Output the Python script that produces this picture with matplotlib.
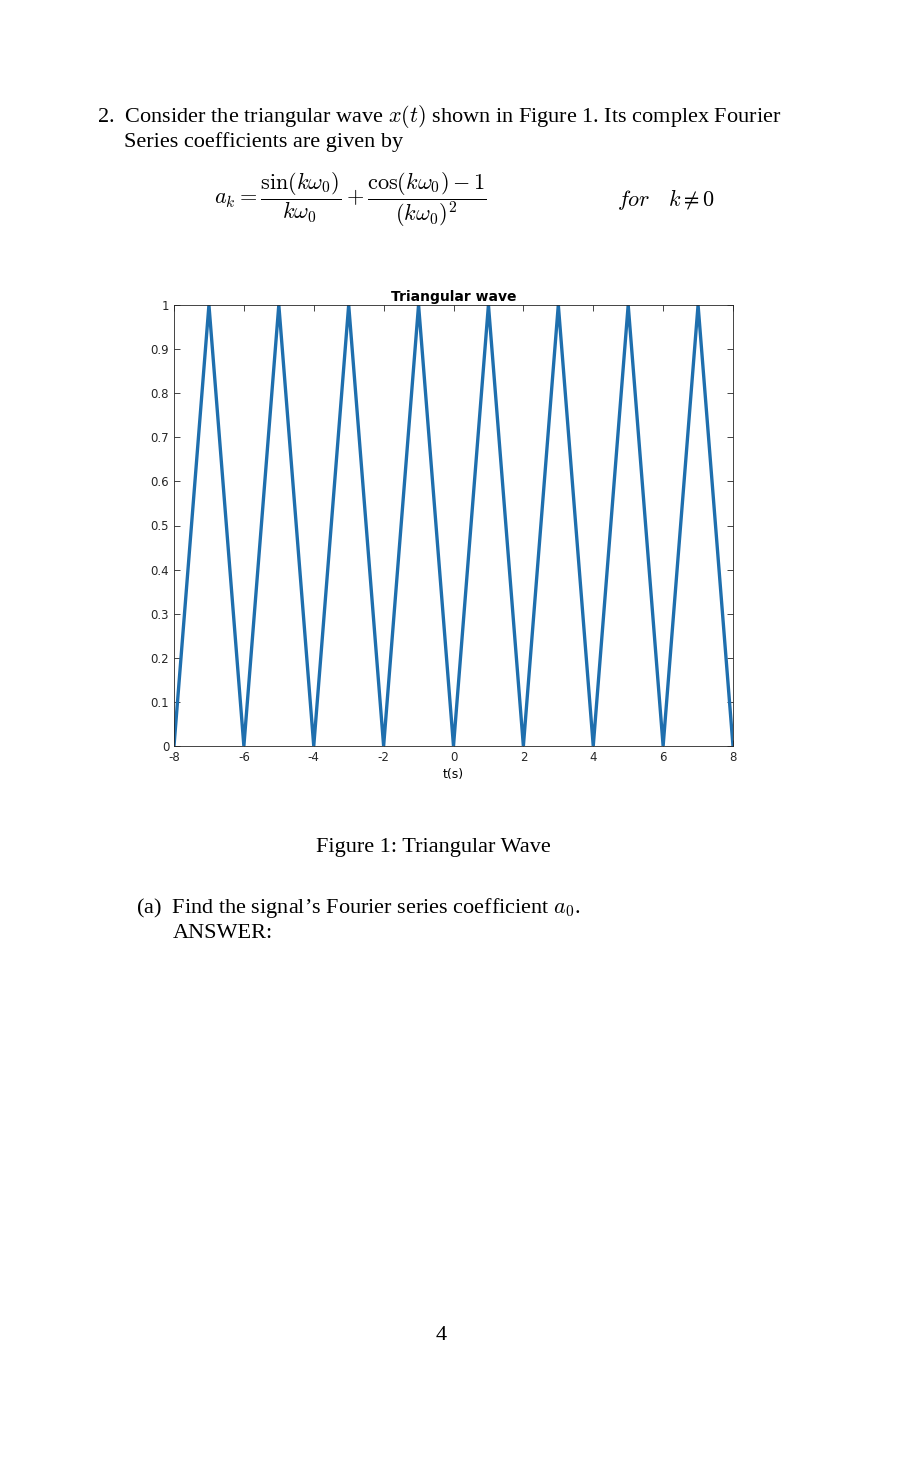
import matplotlib
matplotlib.use("Agg")
import matplotlib.pyplot as plt
import numpy as np

plt.rcParams['mathtext.fontset'] = 'cm'

t_vals = [-8, -7, -6, -5, -4, -3, -2, -1, 0, 1, 2, 3, 4, 5, 6, 7, 8]
x_vals = [0, 1, 0, 1, 0, 1, 0, 1, 0, 1, 0, 1, 0, 1, 0, 1, 0]
xticks = [-8, -6, -4, -2, 0, 2, 4, 6, 8]
yticks = [0, 0.1, 0.2, 0.3, 0.4, 0.5, 0.6, 0.7, 0.8, 0.9, 1]

W, H = 913, 1481
fig = plt.figure(figsize=(W/100, H/100), dpi=100)

def T(x, y, s, **kw):
    kw.setdefault('fontsize', 16)
    kw.setdefault('family', 'Liberation Serif')
    fig.text(x/W, 1-y/H, s, va='center', **kw)

T(97, 116, "2.  Consider the triangular wave $x(t)$ shown in Figure 1. Its complex Fourier")
T(124, 142, "Series coefficients are given by")
T(214, 200, r"$a_k = \dfrac{\sin(k\omega_0)}{k\omega_0} + \dfrac{\cos(k\omega_0)-1}{(k\omega_0)^2}$", fontsize=16)
T(617, 199, r"$for\quad k \neq 0$", fontsize=16)
T(316, 847, "Figure 1: Triangular Wave")
T(136, 908, "(a)  Find the signal\u2019s Fourier series coefficient $a_0$.")
T(173, 934, "ANSWER:")
T(441, 1336, "4", ha='center')

ax = fig.add_axes([174/W, 1-746/H, 559/W, 441/H])
ax.plot(t_vals, x_vals, color='#1f6fae', lw=2.4)
ax.set_xlim(-8, 8)
ax.set_ylim(0, 1)
ax.set_xticks(xticks)
ax.set_xticklabels([str(v) for v in xticks])
ax.set_yticks(yticks)
ax.set_yticklabels(['0', '0.1', '0.2', '0.3', '0.4', '0.5', '0.6', '0.7', '0.8', '0.9', '1'])
ax.tick_params(direction='in', top=True, right=True, labelsize=8.5, length=4, width=0.6, colors='#262626')
for s in ax.spines.values():
    s.set_linewidth(0.6)
    s.set_color('#262626')
ax.set_xlabel("t(s)", fontsize=9, labelpad=3)
ax.set_title("Triangular wave", fontsize=10, fontweight='bold', pad=3)

fig.savefig("out.png", dpi=100)
